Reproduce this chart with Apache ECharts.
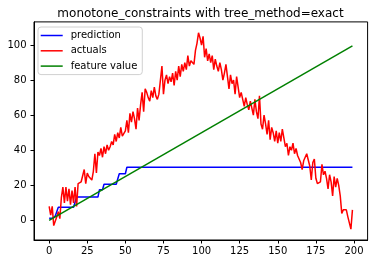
<!DOCTYPE html>
<html><head><meta charset="utf-8">
<script src="https://cdn.jsdelivr.net/npm/echarts@6/dist/echarts.min.js"></script>
<style>html,body{margin:0;padding:0;background:#fff}#c{width:375px;height:264px}</style>
</head><body><div id="c"></div>
<script>
const titleText = 'monotone_constraints with tree_method=exact';
const seriesNames = ['prediction', 'actuals', 'feature value'];
const xTicks = [0, 25, 50, 75, 100, 125, 150, 175, 200];
const yTicks = [0, 20, 40, 60, 80, 100];

const actuals = [
  8, 3, 8, -3, -4, 2, 5, 1, 13, 19,
  10, 19, 11, 18, 9, 17, 10, 19, 8, 21,
  21, 22, 23, 29, 21, 27, 25, 26, 23, 28,
  38, 27, 39, 37, 41, 36, 42, 38, 43, 40,
  42, 45, 43, 49, 45, 50, 47, 53, 48, 49,
  51, 57, 50, 61, 56, 62, 58, 52, 64, 57,
  66, 73, 62, 75, 73, 70, 68, 74, 70, 76,
  71, 69, 72, 73, 88, 72, 80, 83, 78, 82,
  79, 84, 77, 85, 80, 88, 82, 89, 85, 90,
  86, 94, 88, 91, 91, 89, 97, 101, 107, 104,
  100, 105, 93, 98, 91, 95, 90, 94, 86, 92,
  88, 85, 90, 86, 80, 84, 89, 82, 75, 83,
  78, 80, 72, 82, 76, 70, 73, 69, 65, 70,
  66, 63, 68, 64, 60, 69, 62, 58, 71, 55,
  52, 60, 55, 49, 57, 46, 53, 50, 45, 51,
  44, 50, 45, 52, 47, 42, 44, 37, 42, 40,
  44, 38, 41, 37, 35, 33, 29, 34, 36, 38,
  39, 31, 23, 33, 35, 24, 21, 20, 22, 32,
  26, 28, 24, 18, 26, 22, 14, 25, 19, 24,
  20, 14, 4, 6, 6, 6, 2, 1, -5, 6
];

const prediction = [
  1.2, 1.2, 1.2, 1.2, 2.5, 2.5, 7.5, 7.5, 7.5, 7.5,
  7.5, 7.5, 7.5, 7.5, 7.5, 7.5, 7.5, 7.5, 13.3, 13.3,
  13.3, 13.3, 13.3, 13.3, 13.3, 13.3, 13.3, 13.3, 13.3, 13.3,
  13.3, 13.3, 13.3, 17.5, 17.5, 17.5, 20.6, 20.6, 20.6, 20.6,
  20.6, 20.6, 20.6, 20.6, 20.6, 20.6, 26.6, 26.6, 26.6, 26.6,
  26.6, 30.3, 30.3, 30.3, 30.3, 30.3, 30.3, 30.3, 30.3, 30.3,
  30.3, 30.3, 30.3, 30.3, 30.3, 30.3, 30.3, 30.3, 30.3, 30.3,
  30.3, 30.3, 30.3, 30.3, 30.3, 30.3, 30.3, 30.3, 30.3, 30.3,
  30.3, 30.3, 30.3, 30.3, 30.3, 30.3, 30.3, 30.3, 30.3, 30.3,
  30.3, 30.3, 30.3, 30.3, 30.3, 30.3, 30.3, 30.3, 30.3, 30.3,
  30.3, 30.3, 30.3, 30.3, 30.3, 30.3, 30.3, 30.3, 30.3, 30.3,
  30.3, 30.3, 30.3, 30.3, 30.3, 30.3, 30.3, 30.3, 30.3, 30.3,
  30.3, 30.3, 30.3, 30.3, 30.3, 30.3, 30.3, 30.3, 30.3, 30.3,
  30.3, 30.3, 30.3, 30.3, 30.3, 30.3, 30.3, 30.3, 30.3, 30.3,
  30.3, 30.3, 30.3, 30.3, 30.3, 30.3, 30.3, 30.3, 30.3, 30.3,
  30.3, 30.3, 30.3, 30.3, 30.3, 30.3, 30.3, 30.3, 30.3, 30.3,
  30.3, 30.3, 30.3, 30.3, 30.3, 30.3, 30.3, 30.3, 30.3, 30.3,
  30.3, 30.3, 30.3, 30.3, 30.3, 30.3, 30.3, 30.3, 30.3, 30.3,
  30.3, 30.3, 30.3, 30.3, 30.3, 30.3, 30.3, 30.3, 30.3, 30.3,
  30.3, 30.3, 30.3, 30.3, 30.3, 30.3, 30.3, 30.3, 30.3, 30.3
];

// straight line: endpoints
const featureX = [0, 199];
const featureY = [0, 99.5];

const pairs = arr => arr.map((v, i) => [i, v]);
const FONT = 'DejaVu Sans';

const chart = echarts.init(document.getElementById('c'), null, {renderer: 'canvas'});
chart.setOption({
  animation: false,
  backgroundColor: '#fff',
  graphic: [{
    type: 'text', x: 200.5, y: 14, z: 10,
    style: {text: titleText, font: '12px "DejaVu Sans"', fill: '#000', align: 'center', verticalAlign: 'middle'}
  }],
  grid: {left: 34, right: 7.4, top: 21.9, bottom: 24, show: true, borderColor: '#000', borderWidth: 1, containLabel: false},
  legend: {
    orient: 'vertical', left: 38, top: 27,
    padding: [2.5, 5, 2.5, 2.7],
    itemWidth: 22, itemHeight: 1.5, itemGap: 3.3,
    icon: 'rect',
    backgroundColor: 'rgba(255,255,255,0.8)',
    borderColor: '#d0d0d0', borderWidth: 1, borderRadius: 3,
    textStyle: {fontFamily: FONT, fontSize: 10, color: '#000', lineHeight: 12, padding: [0, 0, 0, 3]},
    data: seriesNames
  },
  xAxis: {
    type: 'value', min: -9.95, max: 208.95,
    axisLine: {show: true, onZero: false, lineStyle: {color: '#000', width: 1}},
    axisTick: {show: true, inside: false, length: 3.5, lineStyle: {color: '#000'}, customValues: xTicks},
    axisLabel: {fontFamily: FONT, fontSize: 10, color: '#000', margin: 6, customValues: xTicks},
    splitLine: {show: false}
  },
  yAxis: {
    type: 'value', min: -11.2, max: 113.2,
    axisLine: {show: true, onZero: false, lineStyle: {color: '#000', width: 1}},
    axisTick: {show: true, inside: false, length: 3.5, lineStyle: {color: '#000'}, customValues: yTicks},
    axisLabel: {fontFamily: FONT, fontSize: 10, color: '#000', margin: 7.5, customValues: yTicks},
    splitLine: {show: false}
  },
  series: [
    {name: seriesNames[0], type: 'line', data: pairs(prediction), showSymbol: false, symbol: 'none',
     lineStyle: {color: '#0000ff', width: 1.5}, itemStyle: {color: '#0000ff'}},
    {name: seriesNames[1], type: 'line', data: pairs(actuals), showSymbol: false, symbol: 'none',
     lineStyle: {color: '#ff0000', width: 1.5}, itemStyle: {color: '#ff0000'}},
    {name: seriesNames[2], type: 'line', data: featureX.map((x, i) => [x, featureY[i]]), showSymbol: false, symbol: 'none',
     lineStyle: {color: '#008000', width: 1.5}, itemStyle: {color: '#008000'}}
  ]
});
</script></body></html>
